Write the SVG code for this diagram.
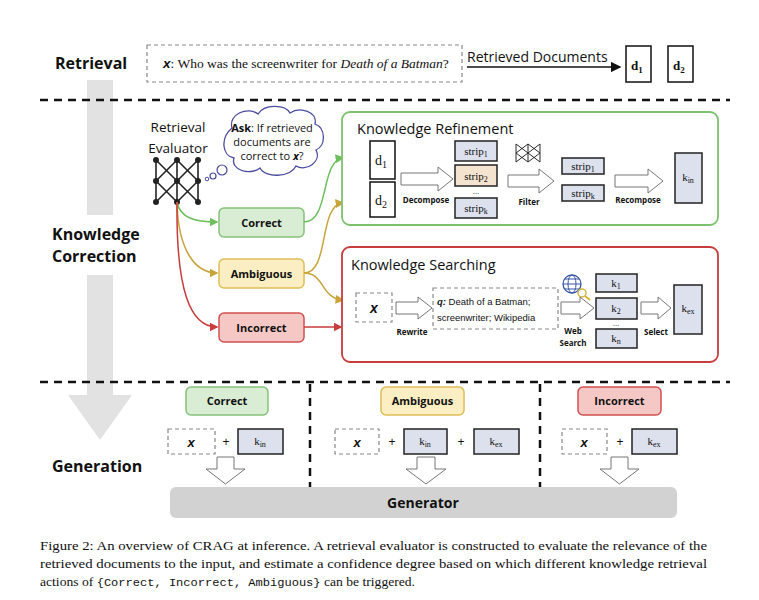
<svg xmlns="http://www.w3.org/2000/svg" width="759" height="600" viewBox="0 0 759 600">
<style>
.lbl{font-family:"Open Sans","Liberation Sans",sans-serif;font-weight:bold;font-size:16px;fill:#111}
.sans{font-family:"Liberation Sans",sans-serif;fill:#111}
.open{font-family:"Open Sans","Liberation Sans",sans-serif;fill:#111}
.ser{font-family:"Liberation Serif",serif;fill:#111}
.sm{font-family:"Open Sans","Liberation Sans",sans-serif;font-weight:bold;font-size:8px;fill:#111}
.doc{fill:#fff;stroke:#111;stroke-width:1.5}
.st{fill:#dde1ee;stroke:#222;stroke-width:1.5}
.dash{fill:#fff;stroke:#888;stroke-width:1.2;stroke-dasharray:4 3}
.harrow{fill:#fff;stroke:#777;stroke-width:1}
.sep{stroke:#111;stroke-width:2.5;stroke-dasharray:8 6;fill:none}
.net line{stroke:#222;stroke-width:1.6}
.net circle{fill:#222}
</style>
<defs>
<marker id="mg" markerWidth="6" markerHeight="6" refX="5" refY="3" orient="auto"><path d="M0,0L6,3L0,6z" fill="#6cbf5c"/></marker>
<marker id="my" markerWidth="6" markerHeight="6" refX="5" refY="3" orient="auto"><path d="M0,0L6,3L0,6z" fill="#c9a43a"/></marker>
<marker id="mr" markerWidth="6" markerHeight="6" refX="5" refY="3" orient="auto"><path d="M0,0L6,3L0,6z" fill="#c83c3c"/></marker>
<marker id="mk" markerWidth="8" markerHeight="8" refX="7" refY="4" orient="auto"><path d="M0,0L8,4L0,8z" fill="#111"/></marker>
</defs>
<rect width="759" height="600" fill="#fff"/>

<g id="flow" fill="#e2e2e2">
<rect x="87" y="80" width="26" height="135"/>
<rect x="87" y="275" width="26" height="120"/>
<polygon points="68,395 132,395 100,440"/>
</g>

<g id="labels">
<text class="lbl" x="55" y="69">Retrieval</text>
<text class="lbl" x="52" y="240">Knowledge</text>
<text class="lbl" x="52" y="262">Correction</text>
<text class="lbl" x="52" y="472">Generation</text>
</g>

<g id="query">
<rect x="147" y="45" width="315" height="37" class="dash" stroke="#555"/>
<text class="ser" x="163" y="68" font-size="13.5"><tspan font-weight="bold" font-style="italic" font-family="Liberation Sans,sans-serif">x</tspan>: Who was the screenwriter for <tspan font-style="italic">Death of a Batman</tspan>?</text>
</g>
<g id="retrieved">
<text class="open" x="467" y="62" font-size="14">Retrieved Documents</text>
<line x1="467" y1="67" x2="620" y2="67" stroke="#111" stroke-width="1.3" marker-end="url(#mk)"/>
<rect x="626" y="46" width="25" height="36" class="doc" stroke-width="2"/>
<text class="ser" x="631" y="70" font-size="13" font-weight="bold">d<tspan font-size="9" dy="3">1</tspan></text>
<rect x="668" y="46" width="25" height="36" class="doc" stroke-width="2"/>
<text class="ser" x="673" y="70" font-size="13" font-weight="bold">d<tspan font-size="9" dy="3">2</tspan></text>
</g>
<line class="sep" x1="40" y1="100" x2="730" y2="100"/>
<line class="sep" x1="40" y1="382" x2="730" y2="382"/>

<g id="evaluator">
<text class="open" x="178" y="132" font-size="13.5" text-anchor="middle">Retrieval</text>
<text class="open" x="178" y="153" font-size="13.5" text-anchor="middle">Evaluator</text>
<g class="net">
<line x1="156" y1="160" x2="156" y2="202"/><line x1="177" y1="160" x2="177" y2="202"/><line x1="198" y1="160" x2="198" y2="202"/>
<line x1="156" y1="160" x2="177" y2="181"/><line x1="177" y1="160" x2="156" y2="181"/><line x1="177" y1="160" x2="198" y2="181"/><line x1="198" y1="160" x2="177" y2="181"/>
<line x1="156" y1="181" x2="177" y2="202"/><line x1="177" y1="181" x2="156" y2="202"/><line x1="177" y1="181" x2="198" y2="202"/><line x1="198" y1="181" x2="177" y2="202"/>
<circle cx="156" cy="160" r="3"/><circle cx="177" cy="160" r="3"/><circle cx="198" cy="160" r="3"/>
<circle cx="156" cy="181" r="3"/><circle cx="177" cy="181" r="3"/><circle cx="198" cy="181" r="3"/>
<circle cx="156" cy="202" r="3"/><circle cx="177" cy="202" r="3"/><circle cx="198" cy="202" r="3"/>
</g>
</g>
<g id="cloud">
<path d="M232,128 C228,114 248,106 258,114 C264,104 285,104 290,113 C300,106 318,112 315,124 C326,128 326,146 316,150 C322,162 306,172 296,166 C290,178 265,178 260,168 C250,176 230,170 234,158 C222,156 220,138 232,128 Z" fill="#fff" stroke="#4a4aa0" stroke-width="1.3"/>
<circle cx="222" cy="170" r="5" fill="#fff" stroke="#4a4aa0" stroke-width="1.2"/>
<circle cx="213" cy="176" r="3" fill="#fff" stroke="#4a4aa0" stroke-width="1.2"/>
<circle cx="207" cy="179" r="1.8" fill="#fff" stroke="#4a4aa0" stroke-width="1"/>
<text class="open" x="272" y="132" font-size="11" text-anchor="middle"><tspan font-weight="bold">Ask</tspan>: If retrieved</text>
<text class="open" x="272" y="146" font-size="11" text-anchor="middle">documents are</text>
<text class="open" x="272" y="160" font-size="11" text-anchor="middle">correct to <tspan font-weight="bold" font-style="italic">x</tspan>?</text>
</g>

<g id="correct"><rect x="219" y="208" width="85" height="29" rx="5" fill="#d9ecd4" stroke="#86c27a" stroke-width="1.5"/><text class="open" x="261.5" y="227" font-size="11" font-weight="bold" text-anchor="middle">Correct</text></g>
<g id="ambiguous"><rect x="219" y="259" width="85" height="29" rx="5" fill="#fbeec2" stroke="#dfbd55" stroke-width="1.5"/><text class="open" x="261.5" y="278" font-size="11" font-weight="bold" text-anchor="middle">Ambiguous</text></g>
<g id="incorrect"><rect x="219" y="313" width="85" height="29" rx="5" fill="#f5c8c6" stroke="#d05050" stroke-width="1.5"/><text class="open" x="261.5" y="332" font-size="11" font-weight="bold" text-anchor="middle">Incorrect</text></g>

<g id="connectors" fill="none" stroke-width="1.5">
<path d="M177,202 C180,218 195,222 217,222" stroke="#6cbf5c" marker-end="url(#mg)"/>
<path d="M177,202 C178,250 195,273 217,273" stroke="#c9a43a" marker-end="url(#my)"/>
<path d="M177,202 C176,290 190,327 217,327" stroke="#c83c3c" marker-end="url(#mr)"/>
<path d="M304,222 C330,222 320,160 343,158" stroke="#6cbf5c" marker-end="url(#mg)"/>
<path d="M304,273 C330,273 318,205 343,203" stroke="#c9a43a" marker-end="url(#my)"/>
<path d="M304,273 C325,273 320,298 343,300" stroke="#c9a43a" marker-end="url(#my)"/>
<line x1="304" y1="327" x2="341" y2="327" stroke="#c83c3c" marker-end="url(#mr)"/>
</g>

<g id="refinement">
<rect x="342" y="112" width="376" height="113" rx="8" fill="#fff" stroke="#7cc26f" stroke-width="1.8"/>
<text class="open" x="357" y="134" font-size="14.5">Knowledge Refinement</text>
<rect x="370" y="141" width="25" height="38" class="doc"/><text class="ser" x="375" y="165" font-size="14">d<tspan font-size="10" dy="3">1</tspan></text>
<rect x="370" y="182" width="25" height="35" class="doc"/><text class="ser" x="375" y="205" font-size="14">d<tspan font-size="10" dy="3">2</tspan></text>
<polygon class="harrow" points="401,173 438,173 438,167 453,179 438,191 438,185 401,185"/>
<text class="sm" x="426" y="203" text-anchor="middle">Decompose</text>
<rect x="455" y="141" width="42" height="20" class="st"/><text class="ser" x="476" y="155" font-size="11" text-anchor="middle">strip<tspan font-size="8" dy="2">1</tspan></text>
<rect x="455" y="165" width="42" height="21" fill="#f3e3cf" stroke="#222" stroke-width="1.5"/><text class="ser" x="476" y="180" font-size="11" text-anchor="middle">strip<tspan font-size="8" dy="2">2</tspan></text>
<text class="sans" x="476" y="194" font-size="8" text-anchor="middle">...</text>
<rect x="455" y="198" width="42" height="20" class="st"/><text class="ser" x="476" y="212" font-size="11" text-anchor="middle">strip<tspan font-size="8" dy="2">k</tspan></text>
<g class="net" transform="translate(516,144) scale(0.6)"><line x1="0" y1="0" x2="0" y2="30"/><line x1="20" y1="0" x2="20" y2="30"/><line x1="40" y1="0" x2="40" y2="30"/><line x1="0" y1="0" x2="20" y2="15"/><line x1="20" y1="0" x2="0" y2="15"/><line x1="20" y1="0" x2="40" y2="15"/><line x1="40" y1="0" x2="20" y2="15"/><line x1="0" y1="15" x2="20" y2="30"/><line x1="20" y1="15" x2="40" y2="30"/><line x1="20" y1="15" x2="0" y2="30"/><line x1="40" y1="15" x2="20" y2="30"/></g>
<polygon class="harrow" points="508,175 539,175 539,169 554,181 539,193 539,187 508,187"/>
<text class="sm" x="529" y="205" text-anchor="middle">Filter</text>
<rect x="562" y="158" width="42" height="16" class="st"/><text class="ser" x="583" y="170" font-size="11" text-anchor="middle">strip<tspan font-size="8" dy="2">1</tspan></text>
<rect x="562" y="185" width="42" height="16" class="st"/><text class="ser" x="583" y="197" font-size="11" text-anchor="middle">strip<tspan font-size="8" dy="2">k</tspan></text>
<polygon class="harrow" points="615,175 648,175 648,169 663,181 648,193 648,187 615,187"/>
<text class="sm" x="638" y="203" text-anchor="middle">Recompose</text>
<rect x="675" y="153" width="27" height="50" class="st"/><text class="ser" x="688" y="181" font-size="11" text-anchor="middle">k<tspan font-size="8" dy="2">in</tspan></text>
</g>

<g id="searching">
<rect x="342" y="247" width="376" height="115" rx="8" fill="#fff" stroke="#c83c3c" stroke-width="1.8"/>
<text class="open" x="351" y="270" font-size="14.5">Knowledge Searching</text>
<rect x="356" y="293" width="36" height="29" class="dash"/><text class="sans" x="374" y="313" font-size="14" font-weight="bold" font-style="italic" text-anchor="middle">x</text>
<polygon class="harrow" points="396,302 418,302 418,297 432,308 418,319 418,314 396,314"/>
<text class="sm" x="412" y="335" text-anchor="middle">Rewrite</text>
<rect x="433" y="288" width="125" height="41" class="dash"/>
<text class="sans" x="437" y="305" font-size="9.5"><tspan font-weight="bold" font-style="italic">q:</tspan> Death of a Batman;</text>
<text class="sans" x="437" y="321" font-size="9.5">screenwriter; Wikipedia</text>
<g id="globe"><circle cx="572" cy="284" r="9" fill="#fff" stroke="#3a55a8" stroke-width="1.3"/><ellipse cx="572" cy="284" rx="4" ry="9" fill="none" stroke="#3a55a8"/><line x1="563" y1="284" x2="581" y2="284" stroke="#3a55a8"/><line x1="565" y1="279" x2="579" y2="279" stroke="#3a55a8"/><line x1="565" y1="289" x2="579" y2="289" stroke="#3a55a8"/><circle cx="582" cy="293" r="4" fill="#fff" stroke="#d8b63a" stroke-width="1.5"/><line x1="585" y1="296" x2="590" y2="300" stroke="#d8b63a" stroke-width="2"/></g>
<polygon class="harrow" points="561,302 580,302 580,297 594,308 580,319 580,314 561,314"/>
<text class="sm" x="573" y="334" text-anchor="middle">Web</text>
<text class="sm" x="573" y="346" text-anchor="middle">Search</text>
<rect x="596" y="274" width="41" height="18" class="st"/><text class="ser" x="616" y="287" font-size="11" text-anchor="middle">k<tspan font-size="8" dy="2">1</tspan></text>
<rect x="596" y="298" width="41" height="21" class="st"/><text class="ser" x="616" y="312" font-size="11" text-anchor="middle">k<tspan font-size="8" dy="2">2</tspan></text>
<text class="sans" x="616" y="326" font-size="8" text-anchor="middle">...</text>
<rect x="596" y="329" width="41" height="19" class="st"/><text class="ser" x="616" y="342" font-size="11" text-anchor="middle">k<tspan font-size="8" dy="2">n</tspan></text>
<polygon class="harrow" points="641,302 658,302 658,297 671,308 658,319 658,314 641,314"/>
<text class="sm" x="656" y="335" text-anchor="middle">Select</text>
<rect x="674" y="285" width="28" height="49" class="st"/><text class="ser" x="688" y="312" font-size="11" text-anchor="middle">k<tspan font-size="8" dy="2">ex</tspan></text>
</g>

<line class="sep" x1="310" y1="384" x2="310" y2="492"/>
<line class="sep" x1="540" y1="384" x2="540" y2="492"/>
<g id="gen-correct">
<rect x="186" y="387" width="82" height="28" rx="5" fill="#d9ecd4" stroke="#86c27a" stroke-width="1.5"/><text class="open" x="227" y="405" font-size="11" font-weight="bold" text-anchor="middle">Correct</text>
<rect x="168" y="429" width="47" height="25" class="dash"/><text class="sans" x="191" y="447" font-size="13" font-weight="bold" font-style="italic" text-anchor="middle">x</text>
<text class="sans" x="226" y="446" font-size="12" text-anchor="middle">+</text>
<rect x="238" y="429" width="45" height="25" class="st"/><text class="ser" x="260" y="445" font-size="11" text-anchor="middle">k<tspan font-size="8" dy="2">in</tspan></text>
<polygon class="harrow" points="217,457 234,457 234,469 245,469 225.5,484 206,469 217,469"/>
</g>
<g id="gen-ambiguous">
<rect x="381" y="387" width="83" height="28" rx="5" fill="#fbeec2" stroke="#dfbd55" stroke-width="1.5"/><text class="open" x="422.5" y="405" font-size="11" font-weight="bold" text-anchor="middle">Ambiguous</text>
<rect x="335" y="429" width="44" height="25" class="dash"/><text class="sans" x="357" y="447" font-size="13" font-weight="bold" font-style="italic" text-anchor="middle">x</text>
<text class="sans" x="392" y="446" font-size="12" text-anchor="middle">+</text>
<rect x="404" y="429" width="43" height="25" class="st"/><text class="ser" x="425" y="445" font-size="11" text-anchor="middle">k<tspan font-size="8" dy="2">in</tspan></text>
<text class="sans" x="461" y="446" font-size="12" text-anchor="middle">+</text>
<rect x="474" y="429" width="45" height="25" class="st"/><text class="ser" x="496" y="445" font-size="11" text-anchor="middle">k<tspan font-size="8" dy="2">ex</tspan></text>
<polygon class="harrow" points="417,457 435,457 435,469 446,469 426,484 406,469 417,469"/>
</g>
<g id="gen-incorrect">
<rect x="578" y="387" width="83" height="28" rx="5" fill="#f5c8c6" stroke="#d05050" stroke-width="1.5"/><text class="open" x="619.5" y="405" font-size="11" font-weight="bold" text-anchor="middle">Incorrect</text>
<rect x="562" y="429" width="45" height="25" class="dash"/><text class="sans" x="584" y="447" font-size="13" font-weight="bold" font-style="italic" text-anchor="middle">x</text>
<text class="sans" x="620" y="446" font-size="12" text-anchor="middle">+</text>
<rect x="632" y="429" width="45" height="25" class="st"/><text class="ser" x="654" y="445" font-size="11" text-anchor="middle">k<tspan font-size="8" dy="2">ex</tspan></text>
<polygon class="harrow" points="611,457 628,457 628,469 639,469 619.5,484 600,469 611,469"/>
</g>
<g id="generator">
<rect x="170" y="487" width="507" height="31" rx="6" fill="#d2d2d2"/>
<text class="open" x="423" y="508" font-size="14" font-weight="bold" text-anchor="middle">Generator</text>
</g>

<g id="caption" class="ser" font-size="13">
<text x="40" y="550" textLength="667" lengthAdjust="spacingAndGlyphs">Figure 2: An overview of CRAG at inference. A retrieval evaluator is constructed to evaluate the relevance of the</text>
<text x="40" y="568" textLength="667" lengthAdjust="spacingAndGlyphs">retrieved documents to the input, and estimate a confidence degree based on which different knowledge retrieval</text>
<text x="40" y="586" textLength="375" lengthAdjust="spacingAndGlyphs">actions of <tspan font-family="Liberation Mono,monospace" font-size="11.5">{Correct, Incorrect, Ambiguous}</tspan> can be triggered.</text>
</g>
</svg>
